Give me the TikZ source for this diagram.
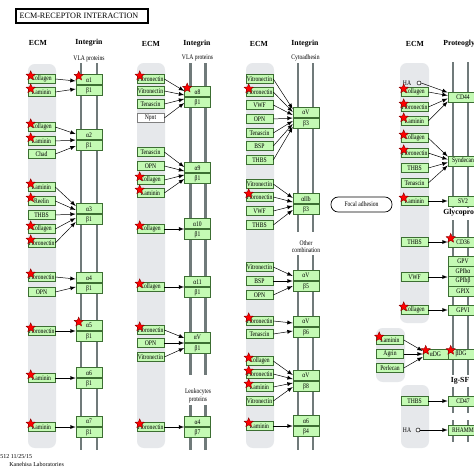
\documentclass[tikz,border=0pt]{standalone}
\usepackage{fontspec}
\setmainfont{Liberation Serif}
\newfontfamily\keggfamily[FakeStretch=0.8]{Liberation Serif}
\usetikzlibrary{shapes.geometric,calc}
\definecolor{kgfill}{RGB}{196,250,180}
\definecolor{kgline}{RGB}{60,110,50}
\definecolor{bandgray}{RGB}{230,232,235}
\definecolor{memgray}{RGB}{112,122,122}
\newcommand{\kgfont}{\keggfamily\fontsize{5}{5.5}\selectfont}
\newcommand{\hdfont}{\fontsize{5.5}{6}\selectfont\bfseries}
\tikzset{
	ecm/.style={draw=kgline, fill=kgfill, line width=0.4pt, minimum width=0.675cm, minimum height=0.225cm, inner sep=0pt, font=\kgfont},
	rcp/.style={draw=kgline, fill=kgfill, line width=0.4pt, minimum width=0.65cm, minimum height=0.25cm, inner sep=0pt, font=\kgfont},
	rcpw/.style={rcp, minimum width=0.75cm},
	band/.style={fill=bandgray, rounded corners=0.17cm},
	mem/.style={draw=memgray, line width=0.065cm},
	arr/.style={-latex, draw=black, line width=0.35pt},
	hdr/.style={font=\hdfont, inner sep=0pt},
	note/.style={font=\kgfont, inner sep=0pt, align=center},
	hacirc/.style={circle, draw=black, fill=white, line width=0.35pt, inner sep=0pt, minimum size=0.1cm},
	redstar/.style={star, star points=5, star point ratio=2.2, fill=red, draw=red!55!black, line width=0.3pt, inner sep=0pt, minimum size=0.24cm}
}
\begin{document}
\begin{tikzpicture}[x=0.025cm, y=-0.025cm]
	\clip (0,0) rectangle (474,474);
	\fill[white] (0,0) rectangle (474,474);
	% title
	\node[draw=black, line width=1.1pt, minimum width=3.3cm, minimum height=0.35cm, inner sep=0pt] (title) at (82,16) {};
	\node[font=\fontsize{5.8}{6}\selectfont, inner sep=0pt] (titletext) at (79,16) {ECM-RECEPTOR INTERACTION};
	% grey ECM bands
	\fill[band] (28,64) rectangle (56,448);
	\fill[band] (137,63) rectangle (165,448);
	\fill[band] (246,63) rectangle (274,448);
	\fill[band] (400,63) rectangle (429,323);
	\fill[band] (376,328) rectangle (405,382);
	\fill[band] (401,385) rectangle (429,448);
	% membranes
	\foreach \x in {81,97} \draw[mem] (\x,63) -- (\x,450);
	\foreach \x in {190.5,205.5} {
		\draw[mem] (\x,63) -- (\x,375);
		\draw[mem] (\x,405) -- (\x,450);
	}
	\foreach \x in {298,313} {
		\draw[mem] (\x,63) -- (\x,232);
		\draw[mem] (\x,255) -- (\x,450);
	}
	\foreach \x in {453,468} {
		\draw[mem] (\x,62) -- (\x,208);
		\draw[mem] (\x,220) -- (\x,375);
		\draw[mem] (\x,387) -- (\x,413);
		\draw[mem] (\x,420) -- (\x,442);
	}
	% headers
	\node[hdr] (ecm1) at (38,43) {ECM};
	\node[hdr] (int1) at (89,43) {Integrin};
	\node[hdr] (ecm2) at (151,44) {ECM};
	\node[hdr] (int2) at (197,44) {Integrin};
	\node[hdr] (ecm3) at (259,44) {ECM};
	\node[hdr] (int3) at (305,44) {Integrin};
	\node[hdr] (ecm4) at (415,44) {ECM};
	\node[hdr, anchor=west] (pgl) at (443,44) {Proteoglycans};
	\node[note] (vla1) at (89,59) {VLA proteins};
	\node[note] (vla2) at (197.5,58) {VLA proteins};
	\node[note] (cyto) at (305.5,58) {Cytoadhesin};
	\node[note] (leuko) at (198,395.5) {Leukocytes\\proteins};
	\node[note] (other) at (306,246.5) {Other\\combination};
	\node[hdr, anchor=west] (glyco) at (443,213) {Glycoproteins};
	\node[hdr] (igsf) at (460,381) {Ig-SF};
	% ECM ligands
	\foreach \y/\t/\nm in {79/Collagen/e1, 92/Laminin/e2, 127/Collagen/e3, 141/Laminin/e4, 154/Chad/e5,
		187/Laminin/e6, 201/Reelin/e7, 215/THBS/e8, 229/Collagen/e9, 243/Fibronectin/e10,
		277/Fibronectin/e11, 292/OPN/e12, 331/Fibronectin/e13, 378/Laminin/e14, 427/Laminin/e15}
		\node[ecm] (\nm) at (41.5,\y) {\t};
	\foreach \y/\t/\nm in {79/Fibronectin/e16, 91/Vitronectin/e17, 104/Tenascin/e18,
		152/Tenascin/e20, 166/OPN/e21, 180/Collagen/e22, 193/Laminin/e23, 229/Collagen/e24,
		287/Collagen/e25, 330/Fibronectin/e26, 343/OPN/e27, 357/Vitronectin/e28, 427/Fibronectin/e29}
		\node[ecm] (\nm) at (150.5,\y) {\t};
	\node[ecm, fill=white, draw=gray] (e19) at (150.5,118) {Npnt};
	\foreach \y/\t/\nm in {79/Vitronectin/e30, 92/Fibronectin/e31, 105/VWF/e32, 119/OPN/e33, 133/Tenascin/e34,
		146/BSP/e35, 160/THBS/e36, 184/Vitronectin/e37, 197/Fibronectin/e38, 211/VWF/e39, 225/THBS/e40,
		267/Vitronectin/e41, 281/BSP/e42, 295/OPN/e43, 321/Fibronectin/e44, 334/Tenascin/e45,
		361/Collagen/e46, 374/Fibronectin/e47, 387/Laminin/e48, 401/Vitronectin/e49, 426/Laminin/e50}
		\node[ecm] (\nm) at (259.5,\y) {\t};
	\foreach \y/\t/\nm in {92/Collagen/e51, 107/Fibronectin/e52, 121/Laminin/e53, 138/Collagen/e54,
		153/Fibronectin/e55, 168/THBS/e56, 183/Tenascin/e57, 201/Laminin/e58, 242/THBS/e59,
		277/VWF/e60, 310/Collagen/e61, 401/THBS/e65}
		\node[ecm] (\nm) at (414.5,\y) {\t};
	\foreach \y/\t/\nm in {340/Laminin/e62, 354/Agrin/e63, 368/Perlecan/e64}
		\node[ecm] (\nm) at (390,\y) {\t};
	\node[note] (ha1) at (407,83) {HA};
	\node[hacirc] (ha1c) at (419,83) {};
	\node[note] (ha2) at (407,430) {HA};
	\node[hacirc] (ha2c) at (418,430) {};
	% integrins
	\foreach \x/\y/\nm/\ta/\tb in {89/85/r1/α1/β1, 89/140/r2/α2/β1, 89/214/r3/α3/β1, 89/283/r4/α4/β1,
		89/331/r5/α5/β1, 89/378/r6/α6/β1, 89/427/r7/α7/β1,
		197.5/97/r8/α8/β1, 197.5/173/r9/α9/β1, 197.5/229/r10/α10/β1, 197.5/287/r11/α11/β1,
		197.5/343/r12/αV/β1, 197.5/427/r13/α4/β7,
		306/118/r14/αV/β3, 306/204/r15/αIIb/β3, 306/281/r16/αV/β5, 306/327/r17/αV/β6,
		306/381/r18/αV/β8, 306/426/r19/α6/β4} {
		\node[rcp, anchor=south] (\nm a) at (\x,\y) {\ta};
		\node[rcp, anchor=north] (\nm b) at (\x,\y) {\tb};
	}
	% other receptors
	\node[rcpw] (cd44) at (463,97) {CD44};
	\node[rcpw] (synd) at (463,161) {Syndecan};
	\node[rcpw] (sv2) at (463,201) {SV2};
	\node[rcpw] (cd36) at (463,242) {CD36};
	\node[rcpw] (gpv) at (463,261) {GPV};
	\node[rcpw] (gpiba) at (463,271) {GPIbα};
	\node[rcpw] (gpibb) at (463,281) {GPIbβ};
	\node[rcpw] (gpix) at (463,291) {GPIX};
	\node[rcpw] (gpvi) at (463,310) {GPVI};
	\node[rcp, minimum width=0.625cm] (adg) at (435.5,354) {αDG};
	\node[rcp] (bdg) at (461,354) {βDG};
	\node[rcpw] (cd47) at (463,401) {CD47};
	\node[rcpw] (rhamm) at (463,430) {RHAMM};
	% interactions
	\foreach \s/\dy in {e1/-4, e2/4} \draw[arr] (\s.east) -- ($(r1a.south west)+(0,\dy)$);
	\foreach \s/\dy in {e3/-6, e4/0, e5/6} \draw[arr] (\s.east) -- ($(r2a.south west)+(0,\dy)$);
	\foreach \s/\dy in {e6/-8, e7/-4, e8/0, e9/4, e10/8} \draw[arr] (\s.east) -- ($(r3a.south west)+(0,\dy)$);
	\foreach \s/\dy in {e11/-4, e12/4} \draw[arr] (\s.east) -- ($(r4a.south west)+(0,\dy)$);
	\foreach \s/\r in {e13/r5a, e14/r6a, e15/r7a, e24/r10a, e25/r11a, e29/r13a, e50/r19a}
		\draw[arr] (\s.east) -- (\s.east -| \r.west);
	\foreach \s/\dy in {e16/-6, e17/-2, e18/2, e19/6} \draw[arr] (\s.east) -- ($(r8a.south west)+(0,\dy)$);
	\foreach \s/\dy in {e20/-6, e21/-2, e22/2, e23/6} \draw[arr] (\s.east) -- ($(r9a.south west)+(0,\dy)$);
	\foreach \s/\dy in {e26/-5, e27/0, e28/5} \draw[arr] (\s.east) -- ($(r12a.south west)+(0,\dy)$);
	\foreach \s/\dy in {e30/-9, e31/-6, e32/-3, e33/0, e34/3, e35/6, e36/9} \draw[arr] (\s.east) -- ($(r14a.south west)+(0,\dy)$);
	\foreach \s/\dy in {e37/-6, e38/-2, e39/2, e40/6} \draw[arr] (\s.east) -- ($(r15a.south west)+(0,\dy)$);
	\foreach \s/\dy in {e41/-5, e42/0, e43/5} \draw[arr] (\s.east) -- ($(r16a.south west)+(0,\dy)$);
	\foreach \s/\dy in {e44/-4, e45/4} \draw[arr] (\s.east) -- ($(r17a.south west)+(0,\dy)$);
	\foreach \s/\dy in {e46/-6, e47/-2, e48/2, e49/6} \draw[arr] (\s.east) -- ($(r18a.south west)+(0,\dy)$);
	\foreach \s/\dy in {ha1c/-4.5, e51/-1.5, e52/1.5, e53/4.5} \draw[arr] (\s.east) -- ($(cd44.west)+(0,\dy)$);
	\foreach \s/\dy in {e54/-4.5, e55/-1.5, e56/1.5, e57/4.5} \draw[arr] (\s.east) -- ($(synd.west)+(0,\dy)$);
	\foreach \s/\dy in {e62/-3, e63/0, e64/3} \draw[arr] (\s.east) -- ($(adg.west)+(0,\dy)$);
	\foreach \s/\r in {e58/sv2, e59/cd36, e60/gpiba, e61/gpvi, e65/cd47, ha2c/rhamm}
		\draw[arr] (\s.east) -- (\s.east -| \r.west);
	% focal adhesion link
	\node[draw=black, line width=0.5pt, rounded corners=0.18cm, minimum width=1.525cm, minimum height=0.375cm, inner sep=0pt, font=\kgfont] (focal) at (361.5,204.5) {Focal adhesion};
	% stars
	\foreach \nm in {e1,e2,e3,e4,e6,e7,e9,e10,e11,e13,e14,e15,e16,e22,e23,e24,e25,e26,e29,
		e31,e38,e44,e46,e47,e48,e50,e51,e52,e53,e54,e55,e58,e61,e62,
		r1a,r5a,r8a,cd36,adg,bdg}
		\node[redstar] at ([shift={(3,1.5)}]\nm.north west) {};
	% footer
	\node[font=\fontsize{4.3}{4.5}\selectfont, anchor=west, inner sep=0pt] (stamp) at (0,457) {512 11/25/15};
	\node[font=\fontsize{4.3}{4.5}\selectfont, anchor=west, inner sep=0pt] (lab) at (9,464) {Kanehisa Laboratories};
\end{tikzpicture}
\end{document}
